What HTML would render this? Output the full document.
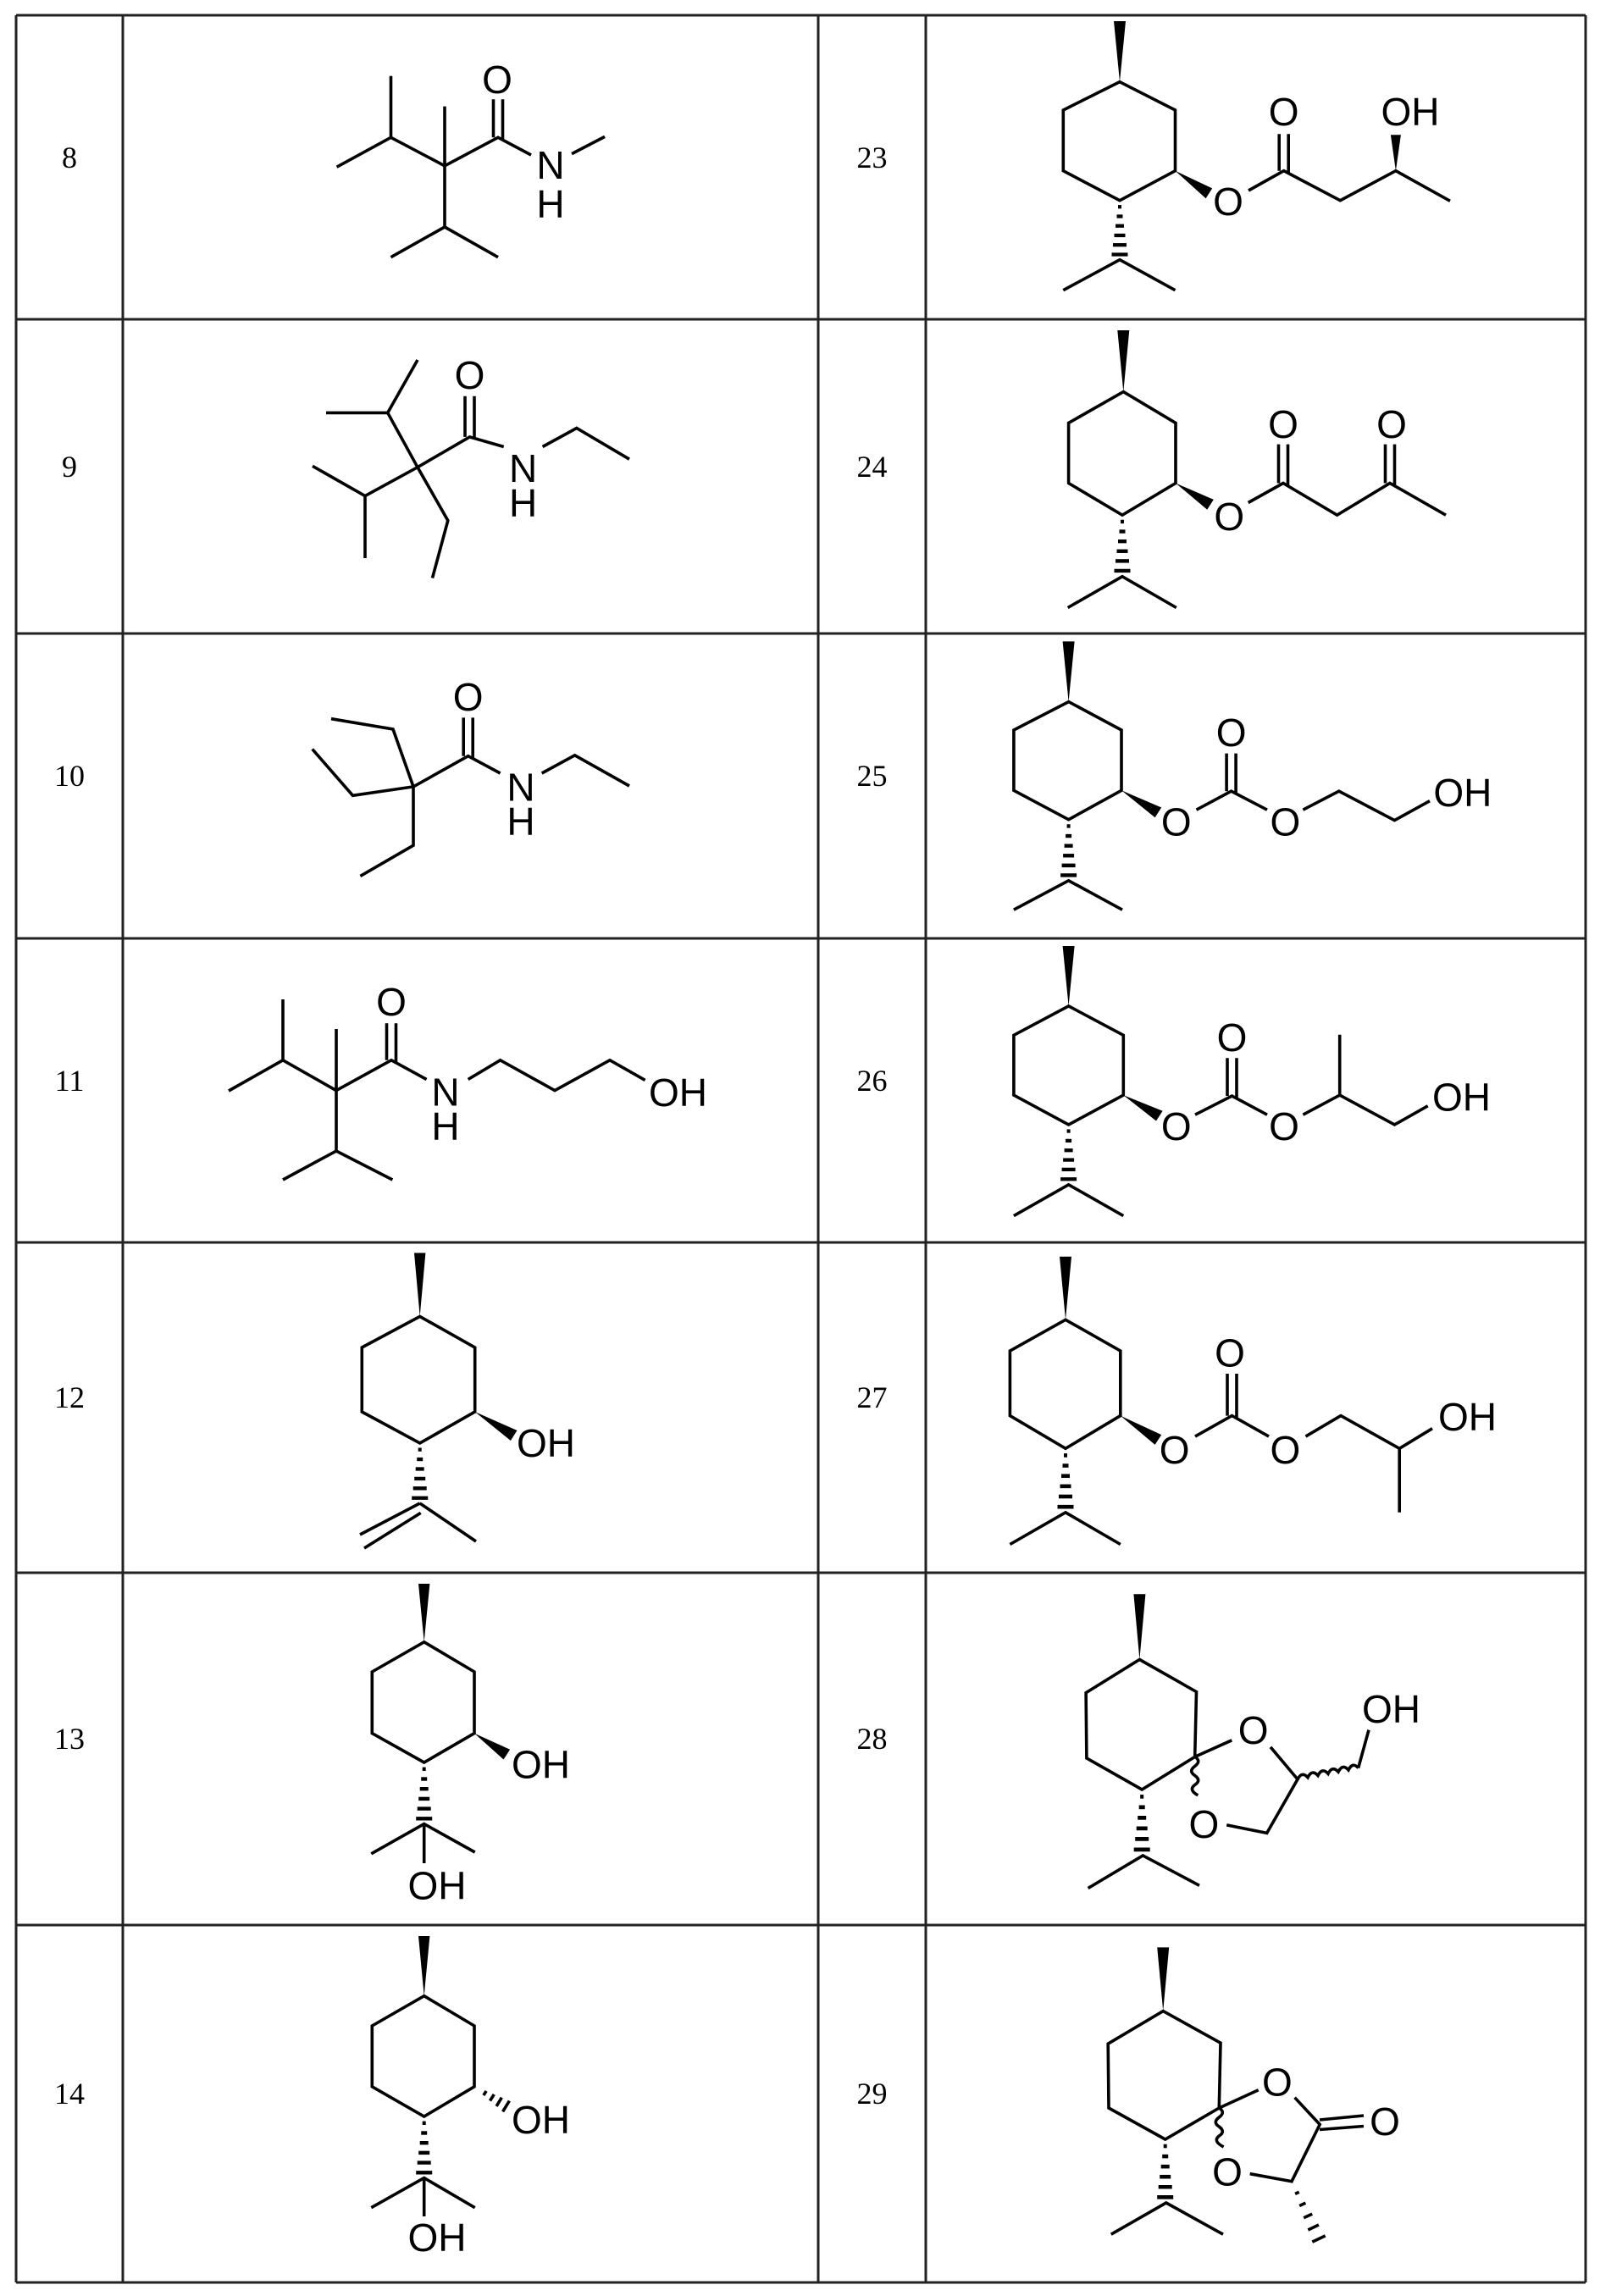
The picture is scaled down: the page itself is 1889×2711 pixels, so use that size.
<!DOCTYPE html>
<html><head><meta charset="utf-8"><style>
html,body{margin:0;padding:0;background:#fff}
svg{display:block}
.b{stroke:#000;stroke-width:3.6;fill:none;stroke-linecap:butt;stroke-linejoin:miter}
.t{font-family:"Liberation Sans",sans-serif;font-size:46px;fill:#000}
.n{font-family:"Liberation Serif",serif;font-size:36px;fill:#000;text-anchor:middle}
.c{text-anchor:middle}
</style></head><body>
<svg width="1889" height="2711" viewBox="0 0 1889 2711" xmlns="http://www.w3.org/2000/svg">
<defs>
<g id="hv" stroke="#000" stroke-width="3.4">
<line x1="-2" y1="6" x2="2" y2="6"/><line x1="-3.5" y1="15" x2="3.5" y2="15"/><line x1="-5" y1="24" x2="5" y2="24"/><line x1="-6.5" y1="33" x2="6.5" y2="33"/><line x1="-8" y1="42" x2="8" y2="42"/><line x1="-9.5" y1="51" x2="9.5" y2="51"/>
</g>
</defs>
<rect width="1889" height="2711" fill="#fff"/>
<g stroke="#222" stroke-width="3">
<line x1="19" y1="18" x2="1872" y2="18"/><line x1="19" y1="2695" x2="1872" y2="2695"/>
<line x1="19" y1="18" x2="19" y2="2695"/><line x1="145" y1="18" x2="145" y2="2695"/>
<line x1="966" y1="18" x2="966" y2="2695"/><line x1="1093" y1="18" x2="1093" y2="2695"/>
<line x1="1872" y1="18" x2="1872" y2="2695"/>
<line x1="19" y1="377" x2="1872" y2="377"/><line x1="19" y1="748" x2="1872" y2="748"/>
<line x1="19" y1="1108" x2="1872" y2="1108"/><line x1="19" y1="1467" x2="1872" y2="1467"/>
<line x1="19" y1="1857" x2="1872" y2="1857"/><line x1="19" y1="2273" x2="1872" y2="2273"/>
</g>
<text class="n" x="82" y="198">8</text><text class="n" x="82" y="563">9</text><text class="n" x="82" y="928">10</text><text class="n" x="82" y="1288">11</text><text class="n" x="82" y="1662">12</text><text class="n" x="82" y="2065">13</text><text class="n" x="82" y="2484">14</text>
<text class="n" x="1029.5" y="198">23</text><text class="n" x="1029.5" y="563">24</text><text class="n" x="1029.5" y="928">25</text><text class="n" x="1029.5" y="1288">26</text><text class="n" x="1029.5" y="1662">27</text><text class="n" x="1029.5" y="2065">28</text><text class="n" x="1029.5" y="2484">29</text>

<!-- 8 -->
<path class="b" d="M525,125.6V268 M397.6,197.2L461.5,162.3V89.8 M461.5,162.3L525,195.8L588,162.3L627,183 M461.5,303.7L525,268L588,303.7 M675,181.6L714,161.4 M582.5,162.3V117.3 M593.5,165V117.3"/>
<text class="t c" x="587" y="110">O</text><text class="t c" x="650" y="211">N</text><text class="t c" x="650" y="257">H</text>
<!-- 9 -->
<path class="b" d="M385,487.4H457.7L493,425 M457.7,487.4L493,551.7L554.5,515.9L594.7,527.5 M369,550.3L431,585.6L493,551.7 M431,585.6V659 M493,551.7L528.8,614.6L510.5,682.5 M640.6,527.5L680.8,505.5L743,542.2 M549,515.9V467.7 M560,518V467.7"/>
<text class="t c" x="554.5" y="459">O</text><text class="t c" x="617.6" y="569">N</text><text class="t c" x="617.6" y="610">H</text>
<!-- 10 -->
<path class="b" d="M391,848.7L464,861L488,928.9L552.7,892.7L590.6,913 M368.7,884.5L416.5,939.3L488,928.9V998.2L425.4,1034.4 M639.7,913L678.6,891.8L743,928 M547.2,892.7V847.4 M558.2,895V847.4"/>
<text class="t c" x="552.7" y="839">O</text><text class="t c" x="615" y="945.5">N</text><text class="t c" x="615" y="986">H</text>
<!-- 11 -->
<path class="b" d="M270,1288L334,1251.8V1180 M334,1251.8L397,1287.6V1215 M397,1287.6L462,1251.8L503.6,1274.5 M397,1287.6V1359 M334,1393L397,1359L463.4,1393 M552.7,1274.5L590.6,1251.8L655,1287.6L720,1251.8L761.6,1275.4 M456.5,1251.8V1208.3 M467.5,1254V1208.3"/>
<text class="t c" x="462" y="1199">O</text><text class="t c" x="526" y="1305.5">N</text><text class="t c" x="526" y="1346">H</text><text class="t" x="766" y="1306">OH</text>
<!-- 12 -->
<polygon points="495.7,1554.4 489,1479.4 502.4,1479.4"/>
<path class="b" d="M495.7,1554.4L560.7,1591V1667L495.7,1704L427.3,1667V1591Z M495.7,1775L562,1820 M495.7,1775L425,1812 M496.7,1786.4L430,1828"/>
<polygon points="560.7,1667 602.9,1701 610.5,1689"/>
<use href="#hv" transform="translate(495.7,1704) scale(1,1.27)"/>
<text class="t" x="610" y="1720">OH</text>
<!-- 13 -->
<polygon points="500.7,1938.8 494,1870 507.4,1870"/>
<path class="b" d="M500.7,1938.8L560,1974V2046.6L500.7,2081L439.3,2046.6V1974Z M438.3,2188.8L500.7,2153.6L560.7,2187 M500.7,2153.6V2200"/>
<polygon points="560,2046.6 594.5,2077.5 602.1,2065.7"/>
<use href="#hv" transform="translate(500.7,2081) scale(1,1.3)"/>
<text class="t" x="604" y="2099.5">OH</text><text class="t c" x="516" y="2242.5">OH</text>
<!-- 14 -->
<polygon points="500.7,2356.7 494,2286 507.4,2286"/>
<path class="b" d="M500.7,2356.7L560,2392V2463.8L500.7,2499L439.3,2463.8V2392Z M438.3,2606.7L500.7,2571.6L560.7,2606.7 M500.7,2571.6V2617"/>
<use href="#hv" transform="translate(500.7,2499) scale(1,1.3)"/>
<path class="b" d="M570.9,2474.1L574.1,2468.9 M578.5,2480.5L583.3,2472.9 M586.1,2486.9L592.3,2476.7 M593.6,2493.3L601.4,2480.5"/>
<text class="t" x="604" y="2519">OH</text><text class="t c" x="516" y="2658">OH</text>

<!-- 23 -->
<polygon points="1322,96.7 1315,25 1329,25"/>
<path class="b" d="M1322,96.7L1387.5,130V201.7L1322,236.7L1255.3,201.7V130Z M1255.3,342.7L1322,306.7L1387.5,342.7 M1474,225L1515.7,201.7L1582.3,236.7L1647.9,201.7L1712,237.3 M1510.2,201.7V158.3 M1521.2,204V158.3"/>
<polygon points="1387.5,201.7 1423.6,234.2 1431.2,222.4"/>
<polygon points="1647.9,201.7 1641.9,159.3 1653.9,159.3"/>
<use href="#hv" transform="translate(1322,236.7) scale(1,1.25)"/>
<text class="t c" x="1450" y="253.8">O</text><text class="t c" x="1515.7" y="148">O</text><text class="t c" x="1665" y="148">OH</text>
<!-- 24 -->
<polygon points="1326.3,462.6 1319.3,390 1333.3,390"/>
<path class="b" d="M1326.3,462.6L1388,499.4V570.5L1325,608.2L1261.6,570.5V499.4Z M1260.7,717.5L1325,680.7L1388.8,717.5 M1473.7,593.5L1515,570.5L1578.6,608.2L1641,570.5L1707,608.2 M1509.5,570.5V524.6 M1520.5,573V524.6 M1635.5,570.5V524.6 M1646.5,573V524.6"/>
<polygon points="1388,570.5 1425.2,601.7 1432.8,589.9"/>
<use href="#hv" transform="translate(1325,608.2) scale(1,1.29)"/>
<text class="t c" x="1451.3" y="626">O</text><text class="t c" x="1515" y="517">O</text><text class="t c" x="1643" y="517">O</text>
<!-- 25 -->
<polygon points="1261.6,828.6 1254.6,757.4 1268.6,757.4"/>
<path class="b" d="M1261.6,828.6L1324,862V933.3L1261.6,967.7L1196.9,933.3V862Z M1196.9,1074.2L1261.6,1039.8L1325,1074.2 M1412.5,956.2L1453.6,934.2L1496,956.2 M1538.4,956.2L1580.8,934.2L1646.4,968.6L1688,945.7 M1448.1,934.2V889.6 M1459.1,936.5V889.6"/>
<polygon points="1324,933.3 1363.6,965.3 1371.2,953.5"/>
<use href="#hv" transform="translate(1261.6,967.7) scale(1,1.29)"/>
<text class="t c" x="1388.8" y="986.5">O</text><text class="t c" x="1453.6" y="881">O</text><text class="t c" x="1517.4" y="986.5">O</text><text class="t" x="1692.4" y="952">OH</text>
<!-- 26 -->
<polygon points="1261.6,1187.9 1254.6,1117 1268.6,1117"/>
<path class="b" d="M1261.6,1187.9L1326.3,1222.3V1293.1L1261.6,1328L1196.9,1293.1V1222.3Z M1196.9,1435.6L1261.6,1398.8L1326.3,1435.6 M1411,1316.2L1454.5,1294L1496,1316.2 M1538.4,1316.2L1581.7,1293.1V1221.8 M1581.7,1293.1L1646.4,1328L1685.7,1305.8 M1449,1294V1249.2 M1460,1296.3V1249.2"/>
<polygon points="1326.3,1293.1 1365,1323.5 1372.6,1311.7"/>
<use href="#hv" transform="translate(1261.6,1328) scale(1,1.26)"/>
<text class="t c" x="1388.8" y="1346">O</text><text class="t c" x="1454.5" y="1241">O</text><text class="t c" x="1516" y="1346">O</text><text class="t" x="1691" y="1311.5">OH</text>
<!-- 27 -->
<polygon points="1258,1558.3 1251,1483.8 1265,1483.8"/>
<path class="b" d="M1258,1558.3L1322.8,1595V1671.6L1258,1710.3L1192.4,1671.6V1595Z M1192.4,1823.5L1258,1785.8L1322.8,1823.5 M1411,1696.1L1454.5,1671.6L1498,1696.1 M1541.5,1696.1L1583,1671.6L1652.2,1710.3V1785.8 M1652.2,1710.3L1691,1686.7 M1449,1671.6V1622 M1460,1674V1622"/>
<polygon points="1322.8,1671.6 1363.6,1705.9 1371.2,1694.1"/>
<use href="#hv" transform="translate(1258,1710.3) scale(1,1.35)"/>
<text class="t c" x="1386.6" y="1728">O</text><text class="t c" x="1452" y="1613.5">O</text><text class="t c" x="1517.4" y="1728">O</text><text class="t" x="1698" y="1689">OH</text>
<!-- 28 -->
<polygon points="1345.4,1959.5 1338.4,1882.2 1352.4,1882.2"/>
<path class="b" d="M1345.4,1959.5L1412.5,1997.6L1410.7,2074.4L1348.2,2113L1282.9,2076L1282.1,1998.7Z M1284.6,2229.5L1349.3,2190.9L1416,2226.3 M1410.7,2074.4L1454.3,2054.8 M1500,2062.8L1532,2100.9L1495.7,2164.4L1448.2,2154.9 M1603.6,2087.6L1616,2042.6"/>
<path class="b" stroke-width="2.8" d="M1410.7,2074.4q8,5 0,11q-8,6 0,11q8,6 0,11q-8,6 3.6,12.4"/>
<path class="b" stroke-width="2.8" d="M1532,2100.9q5,-10 12,-2.2q5,-10 12,-2.2q5,-10 12,-2.2q5,-10 12,-2.2q5,-10 12,-2.2q5,-10 11.6,-2.3"/>
<use href="#hv" transform="translate(1348.2,2113) scale(1,1.39)"/>
<text class="t c" x="1479.6" y="2059">O</text><text class="t c" x="1421.4" y="2170">O</text><text class="t" x="1608" y="2034">OH</text>
<!-- 29 -->
<polygon points="1373.2,2374.6 1366.2,2299.4 1380.2,2299.4"/>
<path class="b" d="M1373.2,2374.6L1441,2412.2L1439.3,2489L1375.7,2526L1309,2489L1308.2,2413.2Z M1311.8,2638.2L1376.8,2601L1444,2638.2 M1439.3,2489L1485.7,2467.7 M1528.6,2476.7L1558.2,2508.5L1525,2575.7L1475.7,2566.7 M1558,2503L1610,2498 M1558,2514.5L1610,2510.5"/>
<path class="b" stroke-width="2.8" d="M1439.3,2489q8,5 0,11q-8,6 0,11q8,6 0,11q-8,6 5.3,13"/>
<path class="b" d="M1529.1,2590.4L1533.7,2588.2 M1534.2,2604.5L1541.4,2601.1 M1539.2,2618.7L1549.2,2614.1 M1544.3,2633L1556.9,2627 M1549.3,2647.1L1564.7,2639.9"/>
<use href="#hv" transform="translate(1375.7,2526) scale(1,1.34)"/>
<text class="t c" x="1507.9" y="2474.7">O</text><text class="t c" x="1635" y="2521">O</text><text class="t c" x="1449" y="2580.5">O</text>
</svg>
</body></html>
